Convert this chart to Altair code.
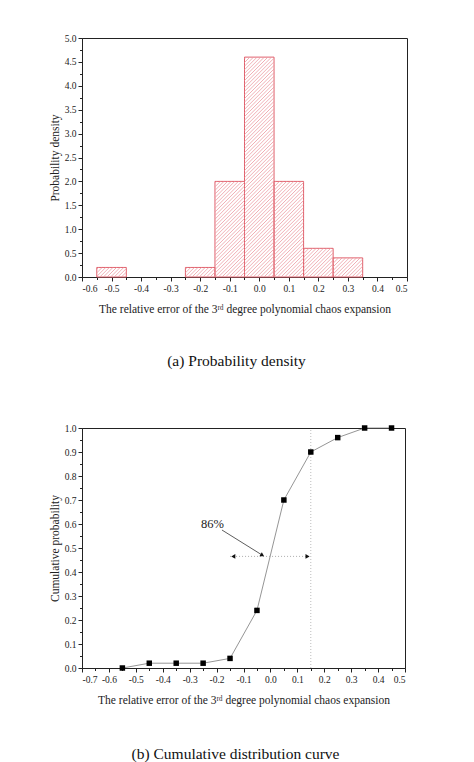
import altair as alt
import pandas as pd

# (a) histogram of the relative error
bin_centers = [-0.5, -0.2, -0.1, 0.0, 0.1, 0.2, 0.3]
density = [0.2, 0.2, 2.0, 4.6, 2.0, 0.6, 0.4]
bin_width = 0.1

# (b) cumulative distribution
cdf_x = [-0.55, -0.45, -0.35, -0.25, -0.15, -0.05, 0.05, 0.15, 0.25, 0.35, 0.45]
cdf_y = [0.0, 0.02, 0.02, 0.02, 0.04, 0.24, 0.70, 0.90, 0.96, 1.0, 1.0]

# annotation of the 86 % band
band_x = [-0.15, 0.15]
band_y = 0.465
note_text = "86%"
note_pos = (-0.215, 0.6)
note_arrow = [(-0.18, 0.575), (-0.03, 0.47)]

top_x_ticks = [-0.6, -0.5, -0.4, -0.3, -0.2, -0.1, 0.0, 0.1, 0.2, 0.3, 0.4, 0.5]
top_y_ticks = [0.0, 0.5, 1.0, 1.5, 2.0, 2.5, 3.0, 3.5, 4.0, 4.5, 5.0]
bot_x_ticks = [-0.7] + top_x_ticks
bot_y_ticks = [0.0, 0.1, 0.2, 0.3, 0.4, 0.5, 0.6, 0.7, 0.8, 0.9, 1.0]

FONT = "Liberation Serif"
W1, H1 = 325, 239
W2, H2 = 323, 240
RED = "#e0606c"
HATCH = "#ec9aa2"
XTITLE = "The relative error of the 3ʳᵈ degree polynomial chaos expansion"


def with_minor(ticks):
    out = []
    for a, b in zip(ticks[:-1], ticks[1:]):
        out += [a, round((a + b) / 2, 4)]
    return out + [ticks[-1]]


def make_axis(ticks, step, title):
    # major ticks get a label and a longer tick, the ones in between stay short
    test = f"abs(datum.value / {step} - round(datum.value / {step})) < 0.001"
    return alt.Axis(
        values=with_minor(ticks),
        tickCount=100,
        title=title,
        labelExpr=f"{test} ? replace(format(datum.value, '.1f'), '\u2212', '-') : ''",
        labelOverlap=False,
        tickSize={"condition": {"test": test, "value": 4}, "value": 2.5},
        grid=False,
    )


# ---------- (a) probability density ----------
hist = pd.DataFrame({"center": bin_centers, "density": density})
hist["left"] = hist["center"] - bin_width / 2
hist["right"] = hist["center"] + bin_width / 2

x1 = alt.Scale(domain=[-0.6, 0.5], nice=False, zero=False)
y1 = alt.Scale(domain=[0, 5], nice=False)

# diagonal hatching, built from the bars above
px_x = W1 / 1.1
px_y = H1 / 5.0
gap = 3.6
rows = []
for left, h in zip(hist["left"], hist["density"]):
    w_px, h_px = bin_width * px_x, h * px_y
    o = -h_px + gap / 2
    while o < w_px:
        u0, u1 = max(0.0, o), min(w_px, h_px + o)
        if u1 > u0:
            rows.append({
                "x": left + u0 / px_x, "y": (u0 - o) / px_y,
                "x2": left + u1 / px_x, "y2": (u1 - o) / px_y,
            })
        o += gap
hatch = pd.DataFrame(rows)

bars = alt.Chart(hist).mark_rect(fill=None, stroke=RED, strokeWidth=1).encode(
    x=alt.X("left:Q", scale=x1, axis=make_axis(top_x_ticks, 0.1, XTITLE)),
    x2="right:Q",
    y=alt.Y("density:Q", scale=y1, axis=make_axis(top_y_ticks, 0.5, "Probability density")),
    y2=alt.datum(0),
)
hatch_lines = alt.Chart(hatch).mark_rule(color=HATCH, strokeWidth=0.8).encode(
    x=alt.X("x:Q", scale=x1), x2="x2:Q",
    y=alt.Y("y:Q", scale=y1), y2="y2:Q",
)
top = alt.layer(bars, hatch_lines).properties(
    width=W1, height=H1,
    title=alt.TitleParams("(a)  Probability density", orient="bottom",
                          offset=39, dx=-8, fontSize=15.5, font=FONT,
                          fontWeight="normal", color="#111"),
)

# ---------- (b) cumulative distribution ----------
cdf = pd.DataFrame({"x": cdf_x, "y": cdf_y})
x2s = alt.Scale(domain=[-0.7, 0.5], nice=False, zero=False)
y2s = alt.Scale(domain=[0, 1], nice=False)

xb = alt.X("x:Q", scale=x2s, axis=make_axis(bot_x_ticks, 0.1, XTITLE))
yb = alt.Y("y:Q", scale=y2s, axis=make_axis(bot_y_ticks, 0.1, "Cumulative probability"))
xn = alt.X("x:Q", scale=x2s)
yn = alt.Y("y:Q", scale=y2s)

curve = alt.Chart(cdf).mark_line(color="#7a7a7a", strokeWidth=0.8).encode(x=xb, y=yb)
points = alt.Chart(cdf).mark_point(shape="square", filled=True, size=30,
                                   color="#000", opacity=1).encode(x=xn, y=yn)

vline = alt.Chart(pd.DataFrame({"x": [band_x[1]]})).mark_rule(
    color="#aaa", strokeWidth=0.8, strokeDash=[1, 2]
).encode(x=xn, y=alt.datum(0, scale=y2s), y2=alt.datum(1))

band = pd.DataFrame({"x": [band_x[0]], "x2": [band_x[1]], "y": [band_y]})
hline = alt.Chart(band).mark_rule(color="#999", strokeWidth=0.8, strokeDash=[1, 2]).encode(
    x=xn, x2="x2:Q", y=yn
)
heads = pd.DataFrame({
    "x": [band_x[0] + 0.012, band_x[1] - 0.012],
    "y": [band_y, band_y],
    "shape": ["triangle-left", "triangle-right"],
})
band_heads = alt.Chart(heads).mark_point(filled=True, size=22, color="#111", opacity=1).encode(
    x=xn, y=yn, shape=alt.Shape("shape:N", scale=None),
)

arrow = pd.DataFrame({"x": [note_arrow[0][0]], "y": [note_arrow[0][1]],
                      "x2": [note_arrow[1][0]], "y2": [note_arrow[1][1]]})
arrow_line = alt.Chart(arrow).mark_rule(color="#333", strokeWidth=0.8).encode(
    x=xn, x2="x2:Q", y=yn, y2="y2:Q"
)
arrow_head = alt.Chart(arrow).mark_point(shape="triangle-up", filled=True, size=22,
                                         angle=121, color="#111", opacity=1).encode(
    x=alt.X("x2:Q", scale=x2s), y=alt.Y("y2:Q", scale=y2s)
)
note = alt.Chart(pd.DataFrame({"x": [note_pos[0]], "y": [note_pos[1]], "t": [note_text]})).mark_text(
    font=FONT, fontSize=12.5, color="#222"
).encode(x=xn, y=yn, text="t:N")

bottom = alt.layer(curve, vline, hline, band_heads, arrow_line, arrow_head, note, points).properties(
    width=W2, height=H2,
    title=alt.TitleParams("(b) Cumulative distribution curve", orient="bottom",
                          offset=41, dx=-8, fontSize=15.5, font=FONT,
                          fontWeight="normal", color="#111"),
)

chart = (
    alt.vconcat(top, bottom, spacing=52)
    .properties(padding={"left": 40, "top": 24, "right": 10, "bottom": 0})
    .configure_view(stroke="#222", strokeWidth=1)
    .configure_axis(
        domainColor="#222", tickColor="#222", labelFont=FONT, titleFont=FONT,
        labelFontSize=9.5, titleFontSize=11.5, titleFontWeight="normal",
        labelColor="#222", titleColor="#222", labelPadding=2, labelOverlap=False,
    )
    .configure_axisY(titlePadding=4)
    .configure_axisX(titlePadding=11)
)

chart.save("out.html", embed_options={"renderer": "svg", "actions": False})
